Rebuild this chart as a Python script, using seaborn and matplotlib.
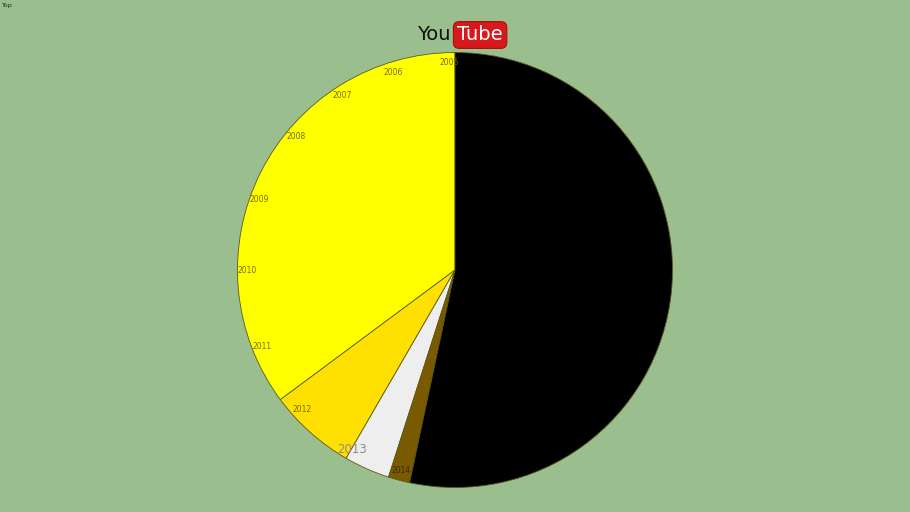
import matplotlib
matplotlib.use("Agg")
import matplotlib.pyplot as plt
import numpy as np
import pandas as pd
import seaborn as sns

# slice shares per year (percent of the circle)
years = ["2005", "2006", "2007", "2008", "2009", "2010", "2011",
         "2012", "2013", "2014", ""]
shares = [0.9, 6.3, 3.9, 5.6, 5.6, 5.6, 7.3, 6.5, 3.4, 1.6, 53.4]
groups = ["a", "a", "a", "a", "a", "a", "a", "b", "c", "d", "e"]
group_colors = {"a": "#FFFF00", "b": "#FFE000", "c": "#EEEEEE",
                "d": "#7A5A00", "e": "#000000"}

# where along its slice each label sits (0 = start, 1 = end)
label_frac = {"2006": 0.63, "2011": 0.43, "2012": 0.24, "2013": 0.02}

BG = "#9BBE8F"

df = pd.DataFrame({"year": years, "share": shares, "group": groups})
grouped = df.groupby("group", sort=False)["share"].sum()

sns.set_theme(style="white")
plt.rcParams["font.family"] = ["DejaVu Sans"]

fig = plt.figure(figsize=(9.1, 5.12), dpi=100, facecolor=BG)
r_px = 217.5
ax = fig.add_axes([(455 - r_px) / 910, (512 - 270 - r_px) / 512,
                   2 * r_px / 910, 2 * r_px / 512])
ax.set_facecolor(BG)

# visible colour blocks
ax.pie(grouped.values, colors=[group_colors[g] for g in grouped.index],
       startangle=90, counterclock=True,
       wedgeprops=dict(edgecolor="#5C5A14", linewidth=0.6))

# year labels from the per-year slices (invisible wedges)
wedges, texts = ax.pie(df["share"], labels=df["year"], labeldistance=0.955,
                       startangle=90, counterclock=True,
                       wedgeprops=dict(fill=False, linewidth=0),
                       textprops=dict(fontsize=5.5, color="#7A6A00"))
for w, t in zip(wedges, texts):
    t.set_ha("center")
    t.set_va("center")
    lab = t.get_text()
    if lab in label_frac:
        ang = np.deg2rad(w.theta1 + label_frac[lab] * (w.theta2 - w.theta1))
        t.set_position((0.952 * np.cos(ang), 0.952 * np.sin(ang)))
    if lab == "2013":
        t.set_fontsize(8.5)
        t.set_color("#8C8C8C")
    if lab == "2014":
        t.set_color("#3A2C00")

ax.set_xlim(-1, 1)
ax.set_ylim(-1, 1)
ax.axis("off")

# title logo
fig.text(0.4955, 1 - 35 / 512, "You", ha="right", va="center",
         fontsize=14, color="#111111")
fig.text(0.5025, 1 - 35 / 512, "Tube", ha="left", va="center",
         fontsize=14, color="white",
         bbox=dict(boxstyle="round,pad=0.2,rounding_size=0.3",
                   facecolor="#D7191C", edgecolor="#A01010", linewidth=0.8))
fig.text(0.002, 0.995, "Top", ha="left", va="top", fontsize=4.5,
         color="#222222")

fig.savefig("out.png", dpi=100, facecolor=BG)
